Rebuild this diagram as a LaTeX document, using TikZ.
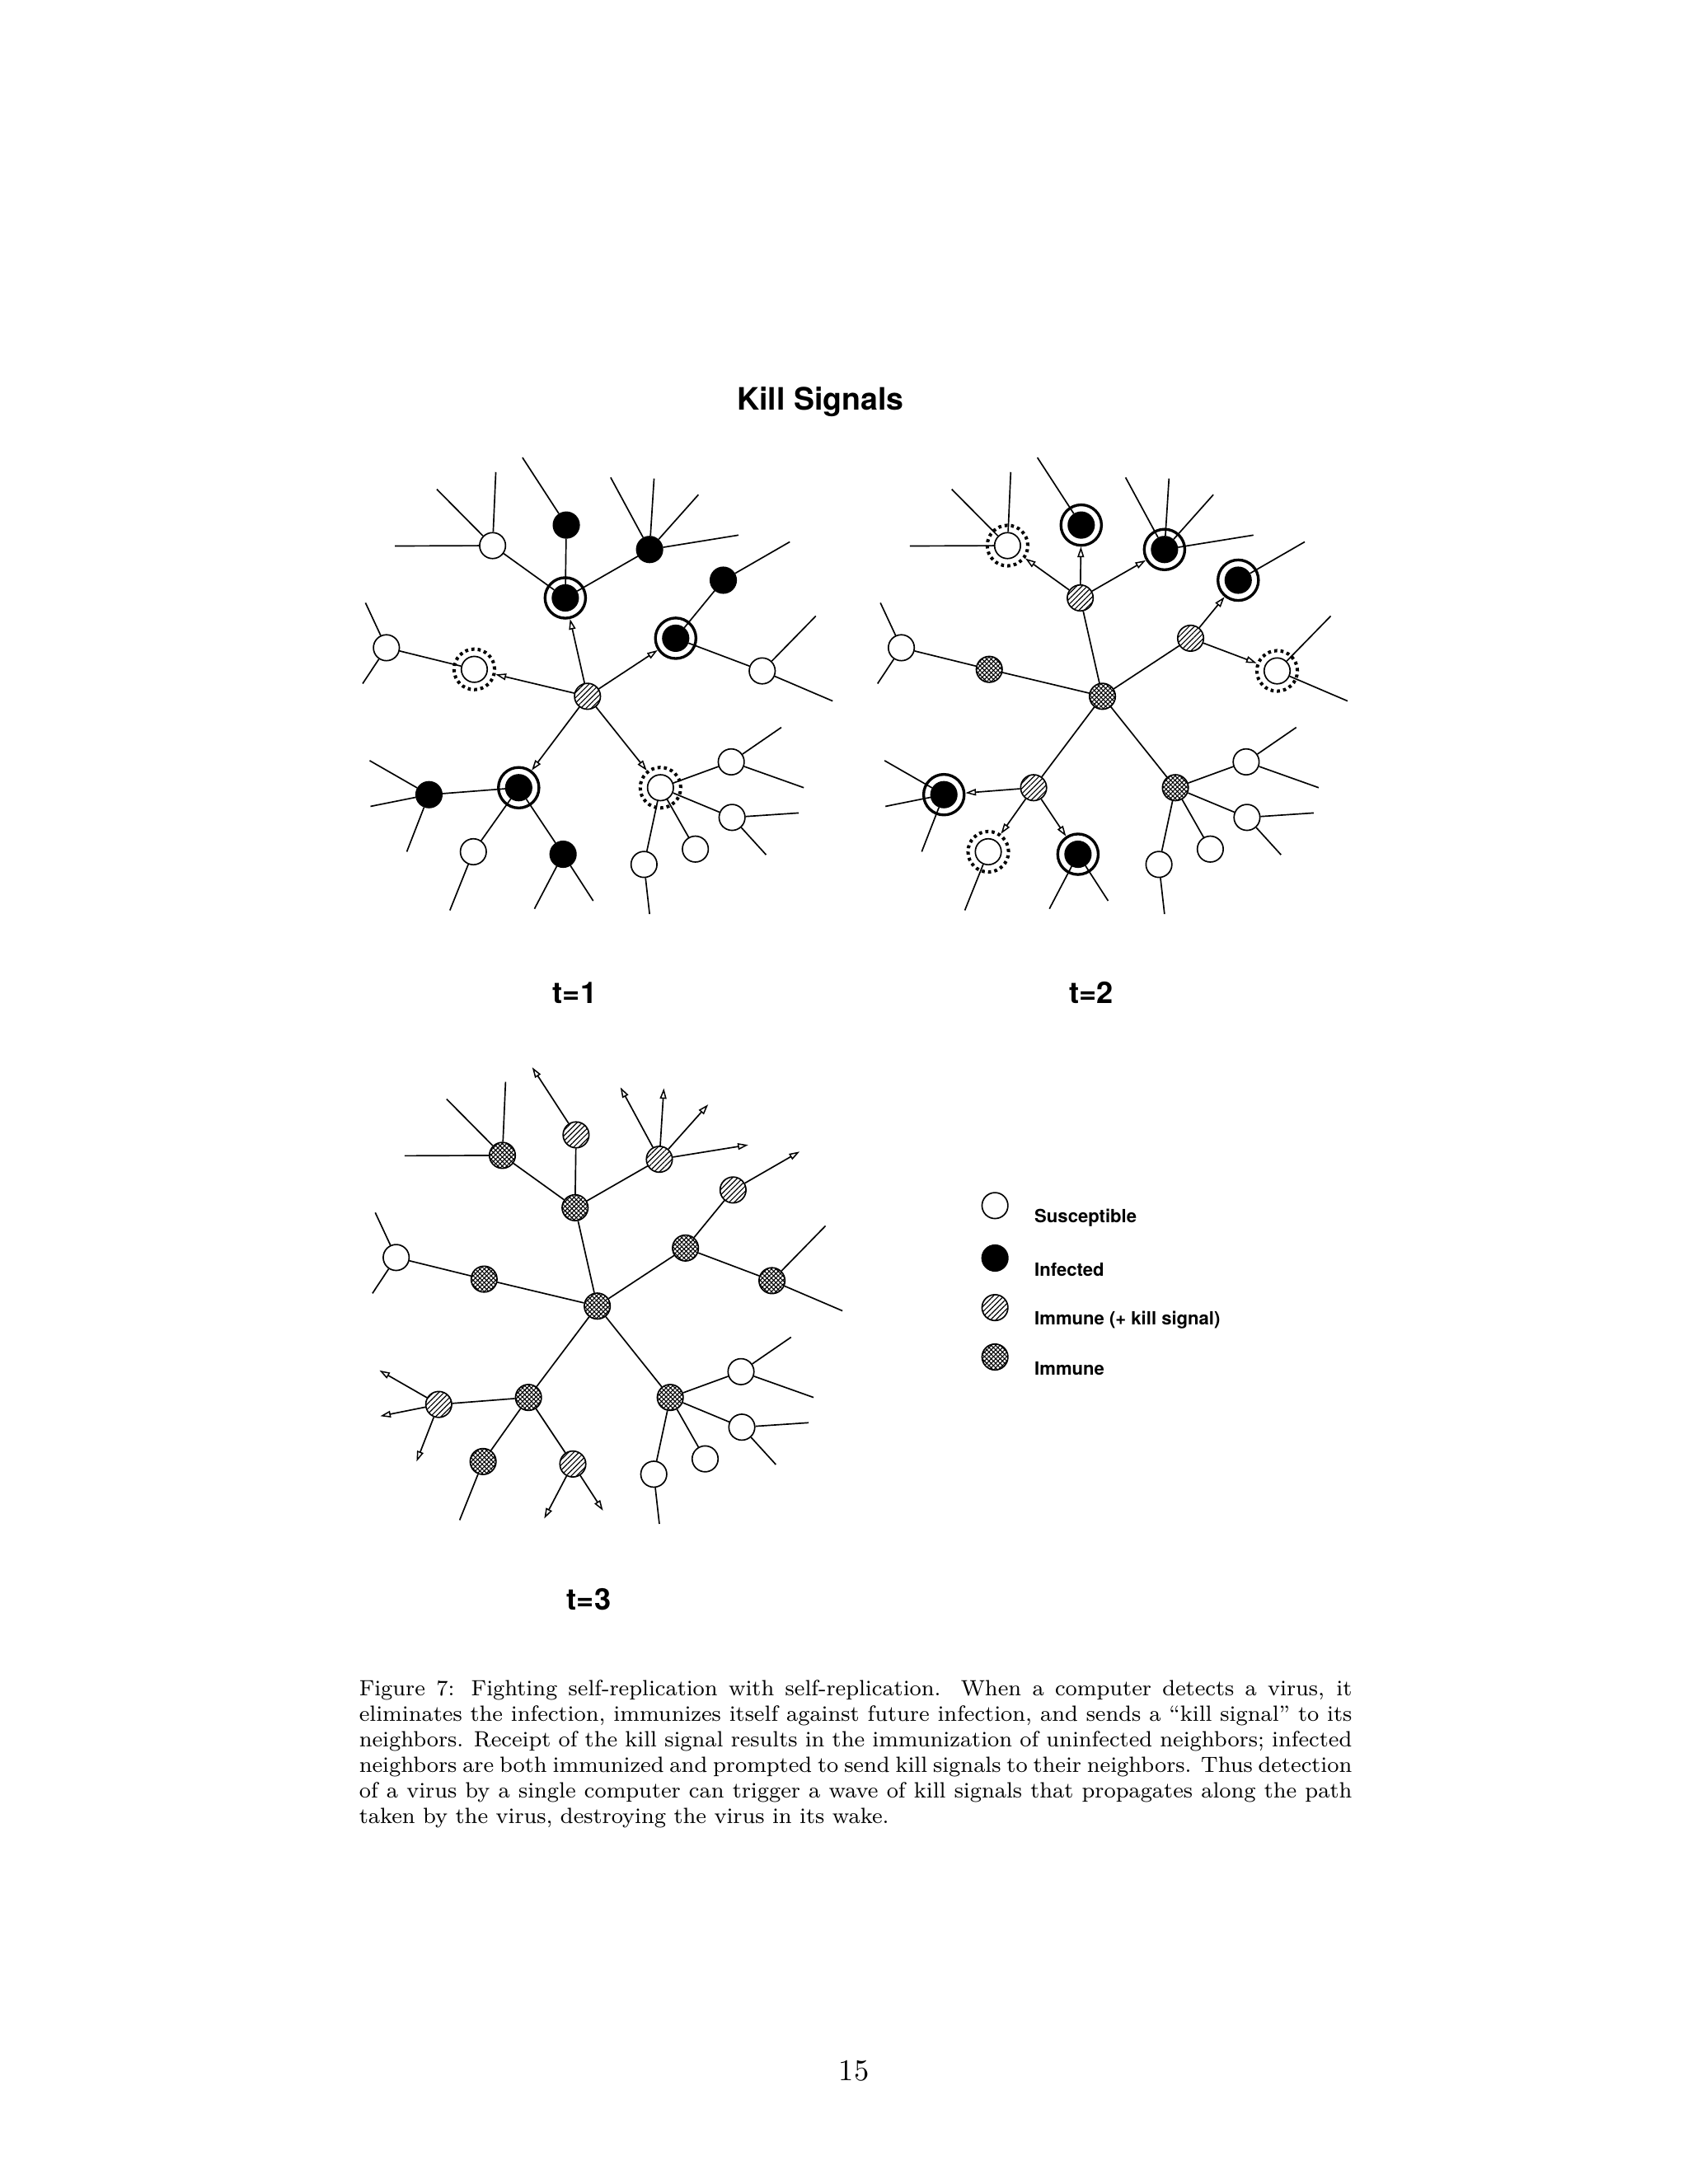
\documentclass[tikz,border=0pt]{standalone}
\usepackage{fontspec}
\newfontfamily\helv{TeX Gyre Heros}
\usetikzlibrary{arrows.meta,patterns.meta}
\newcommand\kn[3]{\node[nodebase,s#1/.try] (#1) at (#2,#3) {};\node[ringbase,r#1/.try] (#1-r) at (#2,#3) {};}
\newcommand\ke[2]{\draw[edgebase,e#2/.try] (#1) -- (#2-r);}
\newcommand\kl[4]{\coordinate (#1-#2) at (#3,#4);\draw[edgebase,l#1/.try] (#1) -- (#1-#2);}
\newcommand\killtree{%
 \kn{C}{0}{0}
 \kn{A}{-15.9}{-70.5}
 \kn{A1}{-68.0}{-108.0}
 \kn{A2}{-15.2}{-122.7}
 \kn{A3}{44.5}{-105.2}
 \kn{B}{63.2}{-41.6}
 \kn{B1}{97.3}{-83.2}
 \kn{B2}{125.2}{-18.2}
 \kn{D}{-81.1}{-19.3}
 \kn{D1}{-144.1}{-34.8}
 \kn{E}{-49.3}{65.5}
 \kn{E1}{-113.6}{70.5}
 \kn{E2}{-81.8}{111.4}
 \kn{E3}{-17.5}{113.2}
 \kn{F}{52.3}{65.5}
 \kn{F1}{103.0}{47.0}
 \kn{F2}{103.6}{86.8}
 \kn{F3}{77.3}{109.5}
 \kn{F4}{40.5}{120.5}
 \ke{C}{A}\ke{C}{B}\ke{C}{D}\ke{C}{E}\ke{C}{F}
 \ke{A}{A1}\ke{A}{A2}\ke{A}{A3}
 \ke{B}{B1}\ke{B}{B2}
 \ke{D}{D1}
 \ke{E}{E1}\ke{E}{E2}\ke{E}{E3}
 \ke{F}{F1}\ke{F}{F2}\ke{F}{F3}\ke{F}{F4}
 \kl{A1}{a}{-138.0}{-107.7}
 \kl{A1}{b}{-108.0}{-148.4}
 \kl{A1}{c}{-65.7}{-160.7}
 \kl{A2}{a}{-46.6}{-171.1}
 \kl{A3}{a}{16.6}{-156.8}
 \kl{A3}{b}{47.7}{-156.1}
 \kl{A3}{c}{79.5}{-144.5}
 \kl{A3}{d}{108.2}{-115.5}
 \kl{B1}{a}{145.0}{-110.7}
 \kl{B2}{a}{163.6}{-57.5}
 \kl{B2}{b}{175.7}{3.4}
 \kl{D1}{a}{-159.1}{-67.0}
 \kl{D1}{b}{-161.1}{-9.1}
 \kl{E1}{a}{-156.1}{46.1}
 \kl{E1}{b}{-155.5}{78.9}
 \kl{E1}{c}{-129.5}{111.4}
 \kl{E2}{a}{-98.6}{153.4}
 \kl{E3}{a}{-38.0}{152.3}
 \kl{E3}{b}{4.1}{146.6}
 \kl{F1}{a}{138.9}{22.3}
 \kl{F1}{b}{155.0}{65.5}
 \kl{F2}{a}{151.4}{83.6}
 \kl{F2}{b}{128.0}{113.6}
 \kl{F4}{a}{44.5}{156.1}
}
\begin{document}
\begin{tikzpicture}[x=0.506pt,y=-0.506pt,
  nodebase/.style={circle,draw,line width=0.5pt,inner sep=0pt,minimum size=9.4pt},
  sus/.style={fill=white},
  inf/.style={fill=black},
  kill/.style={preaction={fill=white},pattern={Lines[angle=45,distance=1.35pt,line width=0.35pt]}},
  imm/.style={preaction={fill=white},pattern={Hatch[angle=45,distance=1.15pt,line width=0.32pt]}},
  ringbase/.style={circle,inner sep=0pt,minimum size=9.4pt},
  ringsolid/.style={draw,line width=1pt,minimum size=14.7pt},
  ringdot/.style={draw,line width=1.2pt,dash pattern=on 1.1pt off 1.2pt,minimum size=14.7pt},
  edgebase/.style={line width=0.5pt},
  arr/.style={-{Triangle[open,length=3.8pt,width=2.4pt,line width=0.45pt]}},
  lbl/.style={font=\helv\bfseries\fontsize{10.8}{13}\selectfont,inner sep=0pt},
  legtext/.style={font=\helv\bfseries\fontsize{6.6}{8}\selectfont,inner sep=0pt,anchor=base west},
]
\useasboundingbox (0,0) rectangle (1209.5,1565.2);

\node[font=\helv\bfseries\fontsize{11.2}{13}\selectfont,inner sep=0pt,anchor=base] (title) at (588,294) {Kill Signals};

% t=1
\begin{scope}[shift={(421,499)},name prefix=t1-,
  sC/.style=kill,
  sA/.style=inf, rA/.style=ringsolid, eA/.style=arr,
  sA2/.style=inf, sA3/.style=inf,
  sB/.style=inf, rB/.style=ringsolid, eB/.style=arr,
  sB1/.style=inf,
  rD/.style=ringdot, eD/.style=arr,
  sE/.style=inf, rE/.style=ringsolid, eE/.style=arr,
  sE1/.style=inf, sE3/.style=inf,
  rF/.style=ringdot, eF/.style=arr]
\killtree
\end{scope}

% t=2
\begin{scope}[shift={(790,499)},name prefix=t2-,
  sC/.style=imm,
  sA/.style=kill,
  rA1/.style=ringdot, eA1/.style=arr,
  sA2/.style=inf, rA2/.style=ringsolid, eA2/.style=arr,
  sA3/.style=inf, rA3/.style=ringsolid, eA3/.style=arr,
  sB/.style=kill,
  sB1/.style=inf, rB1/.style=ringsolid, eB1/.style=arr,
  rB2/.style=ringdot, eB2/.style=arr,
  sD/.style=imm,
  sE/.style=kill,
  sE1/.style=inf, rE1/.style=ringsolid, eE1/.style=arr,
  rE2/.style=ringdot, eE2/.style=arr,
  sE3/.style=inf, rE3/.style=ringsolid, eE3/.style=arr,
  sF/.style=imm]
\killtree
\end{scope}

% t=3
\begin{scope}[shift={(428,936)},name prefix=t3-,
  sC/.style=imm, sA/.style=imm, sA1/.style=imm, sB/.style=imm, sB2/.style=imm,
  sD/.style=imm, sE/.style=imm, sE2/.style=imm, sF/.style=imm,
  sA2/.style=kill, sA3/.style=kill, sB1/.style=kill, sE1/.style=kill, sE3/.style=kill,
  lA2/.style=arr, lA3/.style=arr, lB1/.style=arr, lE1/.style=arr, lE3/.style=arr]
\killtree
\end{scope}

\node[lbl,anchor=base] (lab1) at (412,719) {t=1};
\node[lbl,anchor=base] (lab2) at (782,719) {t=2};
\node[lbl,anchor=base] (lab3) at (422,1154) {t=3};

% legend
\node[nodebase,sus] (leg1) at (713,864) {};
\node[nodebase,inf] (leg2) at (713,901.6) {};
\node[nodebase,kill] (leg3) at (713,937.1) {};
\node[nodebase,imm] (leg4) at (713,972.5) {};
\node[legtext] (legt1) at (741,876) {Susceptible};
\node[legtext] (legt2) at (741,914.4) {Infected};
\node[legtext] (legt3) at (741,949.2) {Immune (+ kill signal)};
\node[legtext] (legt4) at (741,985.3) {Immune};

% caption
\node[anchor=base west,inner sep=0pt,text width=360pt,align=justify,
  font=\fontsize{8.0}{9.3}\selectfont] (cap) at (257,1215)
{Figure 7: Fighting self-replication with self-replication.  When a computer detects a virus, it\linebreak
eliminates the infection, immunizes itself against future infection, and sends a ``kill signal'' to its\linebreak
neighbors. Receipt of the kill signal results in the immunization of uninfected neighbors; infected\linebreak
neighbors are both immunized and prompted to send kill signals to their neighbors. Thus detection\linebreak
of a virus by a single computer can trigger a wave of kill signals that propagates along the path\linebreak
taken by the virus, destroying the virus in its wake.};

\node[anchor=base,inner sep=0pt,font=\fontsize{10.9}{13}\selectfont] (pg) at (612,1491) {15};
\end{tikzpicture}
\end{document}
